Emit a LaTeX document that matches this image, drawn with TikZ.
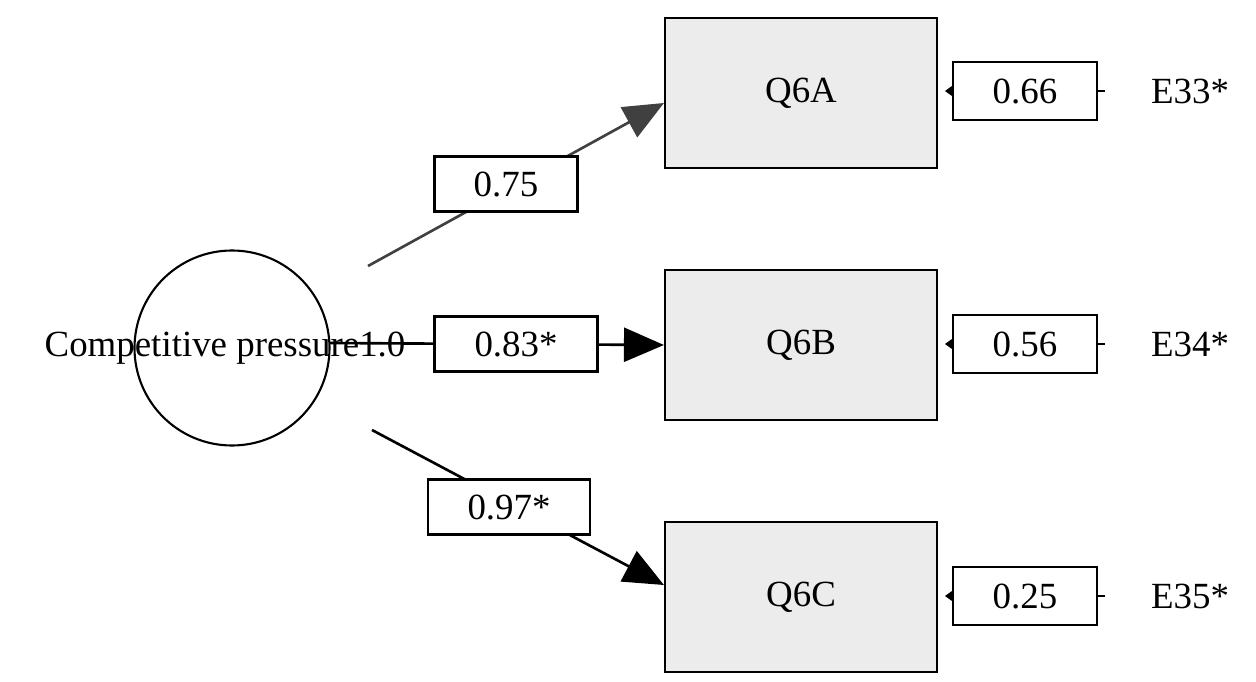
\documentclass[tikz,border=0pt]{standalone}
\usepackage{fontspec}
\setmainfont{Liberation Serif}
\usetikzlibrary{arrows.meta}
\begin{document}
\begin{tikzpicture}[x=0.02cm,y=-0.02cm,
  txt/.style={font=\fontsize{21}{24}\selectfont},
  obs/.style={draw,line width=1.2pt,fill=gray!15,minimum width=272*0.02cm,minimum height=150*0.02cm,txt},
  lab/.style={draw,line width=1.2pt,fill=white,minimum height=55*0.02cm,txt,inner sep=0pt},
  path/.style={line width=1.5pt},
  err/.style={line width=1.2pt}]
\useasboundingbox (0,0) rectangle (1256,682);
\node[draw,circle,line width=1.2pt,minimum size=195*0.02cm] (F) at (232,348) {};
\node[txt] (Ft) at (225,348) {Competitive pressure1.0};
\node[obs] (A) at (801,93) {Q6A};
\node[obs] (B) at (801,345) {Q6B};
\node[obs] (C) at (801,597) {Q6C};
\coordinate (sA) at (368,266);
\coordinate (sB) at (330,343);
\coordinate (sC) at (372,430);
\draw[path,draw=black!75,-{Triangle[length=40*0.02cm,width=34*0.02cm]}] (sA) -- (A.west|-0,103);
\draw[path,-{Triangle[length=40*0.02cm,width=34*0.02cm]}] (sB) -- (A.west|-B.west);
\draw[path,-{Triangle[length=40*0.02cm,width=34*0.02cm]}] (sC) -- (C.west|-0,585);
\node[lab,minimum width=143*0.02cm] (l1) at (506,184) {0.75};
\node[lab,minimum width=163*0.02cm] (l2) at (516,344) {0.83*};
\node[lab,minimum width=162*0.02cm] (l3) at (509,507) {0.97*};
\foreach \n/\y/\v/\e in {a/91/0.66/E33*,b/344/0.56/E34*,c/596/0.25/E35*}{
  \node[lab,minimum width=144*0.02cm,minimum height=58*0.02cm] (e\n) at (1025,\y) {\v};
  \node[txt] (E\n) at (1190,\y) {\e};
  \coordinate (t\n) at (1105,\y);
  \draw[err] (e\n.east) -- (t\n);
  \fill (e\n.west) ++(0,-5) -- ++(-7,5) -- ++(7,5) -- cycle;
}
\end{tikzpicture}
\end{document}
